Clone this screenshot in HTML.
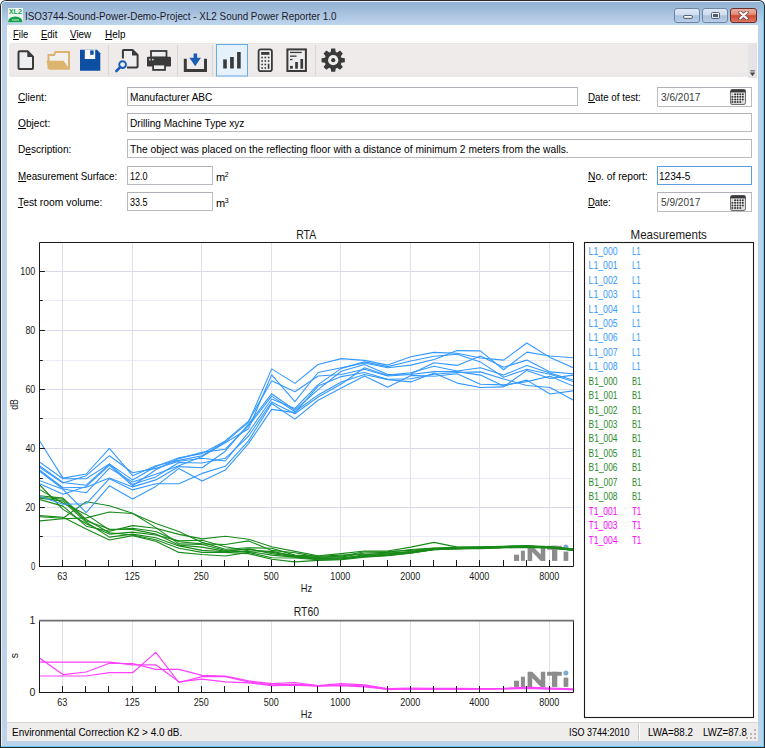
<!DOCTYPE html>
<html><head><meta charset="utf-8">
<style>
*{margin:0;padding:0;box-sizing:border-box}
html,body{width:765px;height:748px;overflow:hidden;background:#fff}
body{position:relative;font-family:"Liberation Sans",sans-serif;font-size:11px;color:#000;letter-spacing:-0.45px}
.a{position:absolute}
.t{position:absolute;white-space:nowrap;line-height:1}
u{text-decoration:underline;text-decoration-thickness:1px;text-underline-offset:1px}
#client{left:7px;top:25px;width:751px;height:716px;background:#fff}
.tbox{position:absolute;border:1px solid #b9bbc0;border-top-color:#b0b2b7;background:#fff;height:20px}
</style></head>
<body>
<div class="a" style="left:0;top:0;width:765px;height:748px;background:#2a2a2a;border-radius:6px 6px 0 0"></div>
<div class="a" style="left:1px;top:1px;width:763px;height:746px;background:#5ccdf0;border-radius:5px 5px 0 0"></div>
<div class="a" style="left:1px;top:1px;width:762px;height:745px;background:#e9f0f8;border-radius:5px 5px 0 0"></div>
<div class="a" style="left:2px;top:2px;width:761px;height:744px;background:#bcd3eb;border-radius:4px 4px 0 0"></div>
<div id="title" class="a" style="left:2px;top:2px;width:761px;height:23px;background:linear-gradient(#93b2d5 0,#9bb8d8 6px,#a9c3df 12px,#b6cee8 19px,#bcd4ec 23px);border-radius:4px 4px 0 0"></div>
<svg class="a" style="left:8px;top:8px;letter-spacing:0" width="15" height="15" viewBox="0 0 15 15">
<rect x="0" y="0" width="15" height="14.5" fill="#eef6f0"/>
<text x="7.3" y="6.3" font-family="Liberation Sans" font-weight="bold" font-size="7.2" fill="#1aa24f" text-anchor="middle">XL2</text>
<path d="M0 14.2 Q0.5 8.6 7.3 8.4 Q14.2 8.6 14.6 14.2 Z" fill="#16a04c"/>
<rect x="4" y="11.4" width="7" height="1.2" fill="#a9dcb9"/>
</svg>
<div class="t" style="left:25px;top:10.8px;font-size:11px;color:#1a1a2a;letter-spacing:0;transform:scaleX(0.8966);transform-origin:0 0">ISO3744-Sound-Power-Demo-Project - XL2 Sound Power Reporter 1.0</div>
<!-- caption buttons -->
<div class="a" style="left:674px;top:8px;width:26px;height:15px;border:1px solid #6f86a3;border-radius:3px;background:linear-gradient(#dfe9f5 0,#cddcee 45%,#a9c1dd 52%,#b9cde6 100%)"></div>
<div class="a" style="left:702px;top:8px;width:26px;height:15px;border:1px solid #6f86a3;border-radius:3px;background:linear-gradient(#dfe9f5 0,#cddcee 45%,#a9c1dd 52%,#b9cde6 100%)"></div>
<div class="a" style="left:730px;top:8px;width:27px;height:15px;border:1px solid #6a2c2c;border-radius:3px;background:linear-gradient(#eab0a2 0,#e2917f 40%,#d0492f 52%,#dc7a66 100%)"></div>
<div class="a" style="left:683px;top:15px;width:9.5px;height:4px;background:linear-gradient(#fff,#d8d8d8);border:1px solid #56647a;border-radius:2px"></div>
<div class="a" style="left:710.5px;top:11.5px;width:9px;height:7px;background:linear-gradient(#fff,#dcdcdc);border:1px solid #56647a;border-radius:1.5px"></div>
<div class="a" style="left:712.5px;top:13.5px;width:5px;height:3px;background:#4d5d73"></div>
<svg class="a" style="left:738px;top:11px" width="11" height="9" viewBox="0 0 11 9"><path d="M2.3 1.4 L8.7 7.4 M8.7 1.4 L2.3 7.4" stroke="#6b3a36" stroke-width="3.8" stroke-linecap="round"/><path d="M2.3 1.4 L8.7 7.4 M8.7 1.4 L2.3 7.4" stroke="#f4f4f4" stroke-width="2.3" stroke-linecap="round"/></svg>
<div id="client" class="a"></div>
<!-- menu -->
<div class="t" style="left:13px;top:28.5px;letter-spacing:0;transform:scaleX(0.8620);transform-origin:0 0"><u>F</u>ile</div>
<div class="t" style="left:41px;top:28.5px;letter-spacing:0;transform:scaleX(0.8602);transform-origin:0 0"><u>E</u>dit</div>
<div class="t" style="left:70px;top:28.5px;letter-spacing:0;transform:scaleX(0.8987);transform-origin:0 0"><u>V</u>iew</div>
<div class="t" style="left:105px;top:28.5px;letter-spacing:0;transform:scaleX(0.9027);transform-origin:0 0"><u>H</u>elp</div>

<!-- toolbar -->
<div class="a" style="left:9px;top:43px;width:747px;height:34px;background:linear-gradient(#e8e5e5 0,#efebeb 1.5px,#efebeb 28px,#ebe8e8 31px,#ebe8e8 34px);border-radius:2px"></div>
<div class="a" style="left:748px;top:43px;width:8.5px;height:34.5px;background:linear-gradient(90deg,#e6e5e6,#e2e2e4)"></div>


<svg class="a" style="left:0;top:0" width="765" height="80" viewBox="0 0 765 80">
<!-- separators -->
<rect x="108" y="45" width="1" height="31" fill="#d9d6d3"/>
<rect x="177" y="45" width="1" height="31" fill="#d9d6d3"/>
<rect x="212" y="45" width="1" height="31" fill="#d9d6d3"/>
<rect x="315" y="45" width="1" height="31" fill="#d9d6d3"/>
<!-- new doc -->
<path d="M18.5 52.5 Q18.5 51.3 19.7 51.3 L27.6 51.3 L33 56.7 L33 68 Q33 69 32 69 L19.5 69 Q18.5 69 18.5 68 Z" fill="#eeeef0" stroke="#3a3a3a" stroke-width="2" stroke-linejoin="round"/>
<path d="M27.3 50.5 L27.3 57 L33.8 57 Z" fill="#3a3a3a"/>
<!-- folder -->
<path d="M48.5 69 L48.5 55 L54 55 L55.5 52 L69 52 L69 69" fill="#f2f1f0" stroke="#dcb46e" stroke-width="2"/>
<path d="M46.5 60.8 L63.5 60.8 L70 69.8 L49 69.8 Z" fill="#dcb46e"/>
<!-- save -->
<path d="M80 49.8 L97 49.8 L100.3 53.3 L100.3 70.7 L80 70.7 Z" fill="#0c4fa3"/>
<rect x="84.8" y="49.8" width="10.4" height="9.2" fill="#fafafa"/>
<rect x="90.2" y="50.4" width="3.4" height="4.4" fill="#0c4fa3"/>
<!-- print preview -->
<path d="M122.9 58.5 L122.9 50.5 Q122.9 49.9 123.5 49.9 L132.5 49.9 L137.6 55 L137.6 66.6 Q137.6 67.6 136.6 67.6 L127 67.6" fill="#eeeef0" stroke="#3a3a3a" stroke-width="2" stroke-linejoin="round"/>
<path d="M132 49.3 L132 55.5 L138.2 55.5 Z" fill="#3a3a3a"/>
<circle cx="122.6" cy="64.6" r="3.4" fill="#f0eeec" stroke="#1a5db5" stroke-width="1.9"/>
<path d="M120.2 67.2 L116.4 71" stroke="#1a5db5" stroke-width="2.6" stroke-linecap="round"/>
<!-- printer -->
<rect x="151" y="51" width="15.5" height="6.5" fill="#eeeef0" stroke="#3a3a3a" stroke-width="1.8"/>
<rect x="147" y="56.8" width="24" height="9.7" rx="0.8" fill="#3a3a3a"/>
<rect x="149" y="58.8" width="1.6" height="1.6" fill="#cfcfcf"/>
<rect x="152" y="58.8" width="1.6" height="1.6" fill="#cfcfcf"/>
<rect x="153.1" y="64.5" width="11.9" height="5.4" fill="#eeeef0" stroke="#3a3a3a" stroke-width="1.8"/>
<!-- download -->
<path d="M185.3 58.7 L185.3 70.4 L205.5 70.4 L205.5 58.7" fill="none" stroke="#3a3a3a" stroke-width="3"/>
<rect x="193.6" y="53.5" width="3.5" height="6" fill="#1a5db5"/>
<path d="M189.4 57.8 L200.9 57.8 L195.2 66.3 Z" fill="#1a5db5"/>
<!-- selected chart button -->
<rect x="216.5" y="44.5" width="31" height="31.5" fill="#e5f1fb" stroke="#68abeb" stroke-width="1"/>
<rect x="223.2" y="59.4" width="3.6" height="9.1" fill="#3a3a3a"/>
<rect x="230.1" y="57" width="3.7" height="11.5" fill="#3a3a3a"/>
<rect x="237.1" y="52" width="3.6" height="16.5" fill="#3a3a3a"/>
<!-- calculator -->
<rect x="258.6" y="49.3" width="13.3" height="21.8" rx="2.2" fill="#eeeef0" stroke="#3a3a3a" stroke-width="1.8"/>
<rect x="261.1" y="52" width="8.3" height="2.8" fill="#3a3a3a"/>
<g fill="#3a3a3a">
<rect x="261.3" y="56.7" width="1.6" height="1.6"/><rect x="264.5" y="56.7" width="1.6" height="1.6"/><rect x="267.8" y="56.7" width="1.6" height="1.6"/>
<rect x="261.3" y="60.2" width="1.6" height="1.6"/><rect x="264.5" y="60.2" width="1.6" height="1.6"/><rect x="267.8" y="60.2" width="1.6" height="1.6"/>
<rect x="261.3" y="63.7" width="1.6" height="1.6"/><rect x="264.5" y="63.7" width="1.6" height="1.6"/><rect x="267.8" y="63.7" width="1.6" height="5.1"/>
<rect x="261.3" y="67.2" width="1.6" height="1.6"/><rect x="264.5" y="67.2" width="1.6" height="1.6"/>
</g>
<!-- report -->
<rect x="287.4" y="49.4" width="18.5" height="21.6" fill="#eeeef0" stroke="#3a3a3a" stroke-width="2"/>
<g fill="#3a3a3a">
<rect x="290" y="51.8" width="11.7" height="1.3"/>
<rect x="290" y="55.5" width="6.5" height="1.3"/>
<rect x="290" y="58.9" width="2.5" height="1.3"/>
<rect x="290" y="65.9" width="2.8" height="2.8"/>
<rect x="295.2" y="62" width="2.7" height="6.7"/>
<rect x="300.4" y="59" width="2.7" height="9.7"/>
</g>
<!-- gear -->
<path d="M329.91 52.25 L330.66 51.98 L331.20 48.57 L335.20 48.57 L335.74 51.98 L336.49 52.25 L337.21 52.59 L340.01 50.56 L342.84 53.39 L340.81 56.19 L341.15 56.91 L341.42 57.66 L344.83 58.20 L344.83 62.20 L341.42 62.74 L341.15 63.49 L340.81 64.21 L342.84 67.01 L340.01 69.84 L337.21 67.81 L336.49 68.15 L335.74 68.42 L335.20 71.83 L331.20 71.83 L330.66 68.42 L329.91 68.15 L329.19 67.81 L326.39 69.84 L323.56 67.01 L325.59 64.21 L325.25 63.49 L324.98 62.74 L321.57 62.20 L321.57 58.20 L324.98 57.66 L325.25 56.91 L325.59 56.19 L323.56 53.39 L326.39 50.56 L329.19 52.59 Z" fill="#3a3a3a"/>
<circle cx="333.2" cy="60.2" r="5.1" fill="#f0eeec"/>
<circle cx="333.2" cy="60.2" r="2.1" fill="#3a3a3a"/>
<!-- overflow grip -->
<rect x="750.3" y="70.1" width="4.5" height="1.4" fill="#7a7a7a"/>
<path d="M749.8 72.6 L755.2 72.6 L752.5 76.2 Z" fill="#454545"/>
</svg>


<!-- form -->
<div class="t" style="left:18px;top:91.8px;letter-spacing:0;transform:scaleX(0.9199);transform-origin:0 0"><u>C</u>lient:</div>
<div class="t" style="left:18px;top:117.8px;letter-spacing:0;transform:scaleX(0.9240);transform-origin:0 0"><u>O</u>bject:</div>
<div class="t" style="left:18px;top:143.8px;letter-spacing:0;transform:scaleX(0.9191);transform-origin:0 0">D<u>e</u>scription:</div>
<div class="t" style="left:18px;top:170.8px;letter-spacing:0;transform:scaleX(0.8913);transform-origin:0 0"><u>M</u>easurement Surface:</div>
<div class="t" style="left:18px;top:196.8px;letter-spacing:0;transform:scaleX(0.9393);transform-origin:0 0"><u>T</u>est room volume:</div>
<div class="tbox" style="left:127px;top:87px;width:451px;height:19px"></div>
<div class="tbox" style="left:127px;top:113px;width:625px;height:19px"></div>
<div class="tbox" style="left:127px;top:139px;width:625px;height:19px"></div>
<div class="tbox" style="left:127px;top:166px;width:86px;height:19px"></div>
<div class="tbox" style="left:127px;top:192px;width:86px;height:19px"></div>
<div class="t" style="left:130px;top:91.8px;letter-spacing:0;transform:scaleX(0.9166);transform-origin:0 0">Manufacturer ABC</div>
<div class="t" style="left:130px;top:117.8px;letter-spacing:0;transform:scaleX(0.9189);transform-origin:0 0">Drilling Machine Type xyz</div>
<div class="t" style="left:130px;top:143.8px;letter-spacing:0;transform:scaleX(0.9318);transform-origin:0 0">The object was placed on the reflecting floor with a distance of minimum 2 meters from the walls.</div>
<div class="t" style="left:130px;top:170.8px;letter-spacing:0;transform:scaleX(0.8178);transform-origin:0 0">12.0</div>
<div class="t" style="left:130px;top:196.8px;letter-spacing:0;transform:scaleX(0.8178);transform-origin:0 0">33.5</div>
<div class="t" style="left:216px;top:170.8px">m<sup style="font-size:7px;vertical-align:4px">2</sup></div>
<div class="t" style="left:216px;top:196.8px">m<sup style="font-size:7px;vertical-align:4px">3</sup></div>
<div class="t" style="left:588px;top:91.8px;letter-spacing:0;transform:scaleX(0.8887);transform-origin:0 0"><u>D</u>ate of test:</div>
<div class="t" style="left:588px;top:170.8px;letter-spacing:0;transform:scaleX(0.9299);transform-origin:0 0"><u>N</u>o. of report:</div>
<div class="t" style="left:588px;top:196.8px;letter-spacing:0;transform:scaleX(0.8593);transform-origin:0 0"><u>D</u>ate:</div>
<div class="tbox" style="left:657px;top:87px;width:95px;height:20px"></div>
<div class="tbox" style="left:657px;top:166px;width:95px;height:19px;border-color:#5a9de0"></div>
<div class="tbox" style="left:657px;top:192px;width:95px;height:20px"></div>
<div class="t" style="left:661px;top:91.8px;color:#3c3c3c;letter-spacing:0;transform:scaleX(0.9172);transform-origin:0 0">3/6/2017</div>
<div class="t" style="left:659px;top:170.8px;letter-spacing:0;transform:scaleX(0.9171);transform-origin:0 0">1234-5</div>
<div class="t" style="left:661px;top:196.8px;color:#3c3c3c;letter-spacing:0;transform:scaleX(0.9172);transform-origin:0 0">5/9/2017</div>
<svg class="a" style="left:730px;top:89px" width="16" height="16" viewBox="0 0 16 16"><rect x="0.6" y="0.6" width="14.8" height="14.8" rx="1.6" fill="#fff" stroke="#6e6e6e" stroke-width="1.1"/><path d="M0.6 3.6 L0.6 2.2 Q0.6 0.6 2.2 0.6 L13.8 0.6 Q15.4 0.6 15.4 2.2 L15.4 3.6 Z" fill="#3a3a3a"/><g stroke="#b0b0b0" stroke-width="0.6"><line x1="1.5" y1="5.3" x2="14.5" y2="5.3"/><line x1="1.5" y1="7.8" x2="14.5" y2="7.8"/><line x1="1.5" y1="10.5" x2="14.5" y2="10.5"/><line x1="1.5" y1="13.0" x2="14.5" y2="13.0"/><line x1="2.4" y1="4" x2="2.4" y2="14.2"/><line x1="5.1" y1="4" x2="5.1" y2="14.2"/><line x1="7.6" y1="4" x2="7.6" y2="14.2"/><line x1="10.3" y1="4" x2="10.3" y2="14.2"/><line x1="12.8" y1="4" x2="12.8" y2="14.2"/></g><g fill="#333"><rect x="4.25" y="4.45" width="1.7" height="1.7"/><rect x="6.75" y="4.45" width="1.7" height="1.7"/><rect x="9.45" y="4.45" width="1.7" height="1.7"/><rect x="11.95" y="4.45" width="1.7" height="1.7"/><rect x="1.55" y="6.95" width="1.7" height="1.7"/><rect x="4.25" y="6.95" width="1.7" height="1.7"/><rect x="6.75" y="6.95" width="1.7" height="1.7"/><rect x="9.45" y="6.95" width="1.7" height="1.7"/><rect x="11.95" y="6.95" width="1.7" height="1.7"/><rect x="1.55" y="9.65" width="1.7" height="1.7"/><rect x="4.25" y="9.65" width="1.7" height="1.7"/><rect x="6.75" y="9.65" width="1.7" height="1.7"/><rect x="9.45" y="9.65" width="1.7" height="1.7"/><rect x="11.95" y="9.65" width="1.7" height="1.7"/><rect x="1.55" y="12.15" width="1.7" height="1.7"/><rect x="4.25" y="12.15" width="1.7" height="1.7"/><rect x="6.75" y="12.15" width="1.7" height="1.7"/><rect x="9.45" y="12.15" width="1.7" height="1.7"/></g></svg>
<svg class="a" style="left:730px;top:194.5px" width="16" height="16" viewBox="0 0 16 16"><rect x="0.6" y="0.6" width="14.8" height="14.8" rx="1.6" fill="#fff" stroke="#6e6e6e" stroke-width="1.1"/><path d="M0.6 3.6 L0.6 2.2 Q0.6 0.6 2.2 0.6 L13.8 0.6 Q15.4 0.6 15.4 2.2 L15.4 3.6 Z" fill="#3a3a3a"/><g stroke="#b0b0b0" stroke-width="0.6"><line x1="1.5" y1="5.3" x2="14.5" y2="5.3"/><line x1="1.5" y1="7.8" x2="14.5" y2="7.8"/><line x1="1.5" y1="10.5" x2="14.5" y2="10.5"/><line x1="1.5" y1="13.0" x2="14.5" y2="13.0"/><line x1="2.4" y1="4" x2="2.4" y2="14.2"/><line x1="5.1" y1="4" x2="5.1" y2="14.2"/><line x1="7.6" y1="4" x2="7.6" y2="14.2"/><line x1="10.3" y1="4" x2="10.3" y2="14.2"/><line x1="12.8" y1="4" x2="12.8" y2="14.2"/></g><g fill="#333"><rect x="4.25" y="4.45" width="1.7" height="1.7"/><rect x="6.75" y="4.45" width="1.7" height="1.7"/><rect x="9.45" y="4.45" width="1.7" height="1.7"/><rect x="11.95" y="4.45" width="1.7" height="1.7"/><rect x="1.55" y="6.95" width="1.7" height="1.7"/><rect x="4.25" y="6.95" width="1.7" height="1.7"/><rect x="6.75" y="6.95" width="1.7" height="1.7"/><rect x="9.45" y="6.95" width="1.7" height="1.7"/><rect x="11.95" y="6.95" width="1.7" height="1.7"/><rect x="1.55" y="9.65" width="1.7" height="1.7"/><rect x="4.25" y="9.65" width="1.7" height="1.7"/><rect x="6.75" y="9.65" width="1.7" height="1.7"/><rect x="9.45" y="9.65" width="1.7" height="1.7"/><rect x="11.95" y="9.65" width="1.7" height="1.7"/><rect x="1.55" y="12.15" width="1.7" height="1.7"/><rect x="4.25" y="12.15" width="1.7" height="1.7"/><rect x="6.75" y="12.15" width="1.7" height="1.7"/><rect x="9.45" y="12.15" width="1.7" height="1.7"/></g></svg>

<!--CHART-->
<svg class="a" style="left:0;top:0;letter-spacing:0" width="765" height="748" viewBox="0 0 765 748" font-family="Liberation Sans, sans-serif">
<line x1="39.6" y1="536.5" x2="573.3" y2="536.5" stroke="#ebebf5" stroke-width="1"/>
<line x1="39.6" y1="507.5" x2="573.3" y2="507.5" stroke="#d9d9ec" stroke-width="1"/>
<line x1="39.6" y1="478.5" x2="573.3" y2="478.5" stroke="#ebebf5" stroke-width="1"/>
<line x1="39.6" y1="448.5" x2="573.3" y2="448.5" stroke="#d9d9ec" stroke-width="1"/>
<line x1="39.6" y1="418.5" x2="573.3" y2="418.5" stroke="#ebebf5" stroke-width="1"/>
<line x1="39.6" y1="389.5" x2="573.3" y2="389.5" stroke="#d9d9ec" stroke-width="1"/>
<line x1="39.6" y1="360.5" x2="573.3" y2="360.5" stroke="#ebebf5" stroke-width="1"/>
<line x1="39.6" y1="330.5" x2="573.3" y2="330.5" stroke="#d9d9ec" stroke-width="1"/>
<line x1="39.6" y1="300.5" x2="573.3" y2="300.5" stroke="#ebebf5" stroke-width="1"/>
<line x1="39.6" y1="271.5" x2="573.3" y2="271.5" stroke="#d9d9ec" stroke-width="1"/>
<line x1="62.5" y1="242" x2="62.5" y2="566" stroke="#dfdff0" stroke-width="1"/>
<line x1="62.5" y1="620" x2="62.5" y2="692" stroke="#dfdff0" stroke-width="1"/>
<line x1="132.5" y1="242" x2="132.5" y2="566" stroke="#dfdff0" stroke-width="1"/>
<line x1="132.5" y1="620" x2="132.5" y2="692" stroke="#dfdff0" stroke-width="1"/>
<line x1="201.5" y1="242" x2="201.5" y2="566" stroke="#dfdff0" stroke-width="1"/>
<line x1="201.5" y1="620" x2="201.5" y2="692" stroke="#dfdff0" stroke-width="1"/>
<line x1="271.5" y1="242" x2="271.5" y2="566" stroke="#dfdff0" stroke-width="1"/>
<line x1="271.5" y1="620" x2="271.5" y2="692" stroke="#dfdff0" stroke-width="1"/>
<line x1="340.5" y1="242" x2="340.5" y2="566" stroke="#dfdff0" stroke-width="1"/>
<line x1="340.5" y1="620" x2="340.5" y2="692" stroke="#dfdff0" stroke-width="1"/>
<line x1="410.5" y1="242" x2="410.5" y2="566" stroke="#dfdff0" stroke-width="1"/>
<line x1="410.5" y1="620" x2="410.5" y2="692" stroke="#dfdff0" stroke-width="1"/>
<line x1="479.5" y1="242" x2="479.5" y2="566" stroke="#dfdff0" stroke-width="1"/>
<line x1="479.5" y1="620" x2="479.5" y2="692" stroke="#dfdff0" stroke-width="1"/>
<line x1="549.5" y1="242" x2="549.5" y2="566" stroke="#dfdff0" stroke-width="1"/>
<line x1="549.5" y1="620" x2="549.5" y2="692" stroke="#dfdff0" stroke-width="1"/>
<g transform="translate(0 0)" fill="#8c8c8c"><rect x="514" y="554.7" width="5.1" height="6.2"/><rect x="520.9" y="550.7" width="4.0" height="10.2"/><path d="M527.6 560.9 L527.6 545.8 L532.2 545.8 L540.8 554.6 L540.8 545.8 L545.3 545.8 L545.3 560.9 L540.8 560.9 L532.2 552.1 L532.2 560.9 Z"/><rect x="547.1" y="545.8" width="14.7" height="3.9"/><rect x="552" y="545.8" width="5.3" height="15.1"/><rect x="563.6" y="551.6" width="4.7" height="9.3"/><circle cx="565.9" cy="546.9" r="2.5" fill="#7ea9cf"/></g>
<g transform="translate(0 126)" fill="#8c8c8c"><rect x="514" y="554.7" width="5.1" height="6.2"/><rect x="520.9" y="550.7" width="4.0" height="10.2"/><path d="M527.6 560.9 L527.6 545.8 L532.2 545.8 L540.8 554.6 L540.8 545.8 L545.3 545.8 L545.3 560.9 L540.8 560.9 L532.2 552.1 L532.2 560.9 Z"/><rect x="547.1" y="545.8" width="14.7" height="3.9"/><rect x="552" y="545.8" width="5.3" height="15.1"/><rect x="563.6" y="551.6" width="4.7" height="9.3"/><circle cx="565.9" cy="546.9" r="2.5" fill="#7ea9cf"/></g>
<g clip-path="url(#cr)">
<polyline points="39.8,484.9 63.0,509.4 86.2,523.8 109.4,534.1 132.6,532.1 155.8,535.0 178.9,540.9 202.1,540.3 225.3,546.8 248.5,550.7 271.7,551.4 294.9,555.7 318.1,557.4 341.3,556.1 364.5,551.8 387.7,551.5 410.8,550.4 434.0,548.3 457.2,547.7 480.4,547.7 503.6,547.1 526.8,546.5 550.0,547.1 573.2,549.2" fill="none" stroke="#188a18" stroke-width="1.1" stroke-linejoin="round" opacity="1.0"/>
<polyline points="39.8,489.6 63.0,503.2 86.2,514.4 109.4,530.0 132.6,528.2 155.8,531.5 178.9,541.8 202.1,543.9 225.3,544.5 248.5,540.9 271.7,550.4 294.9,552.7 318.1,556.9 341.3,557.1 364.5,553.0 387.7,552.4 410.8,549.5 434.0,548.0 457.2,547.4 480.4,547.1 503.6,546.5 526.8,545.9 550.0,547.4 573.2,550.1" fill="none" stroke="#188a18" stroke-width="1.1" stroke-linejoin="round" opacity="1.0"/>
<polyline points="39.8,495.8 63.0,498.1 86.2,519.4 109.4,532.7 132.6,535.0 155.8,539.7 178.9,548.3 202.1,552.4 225.3,552.4 248.5,553.6 271.7,559.2 294.9,561.9 318.1,560.4 341.3,559.8 364.5,557.1 387.7,555.7 410.8,553.3 434.0,549.8 457.2,548.6 480.4,548.6 503.6,547.7 526.8,547.4 550.0,548.0 573.2,550.4" fill="none" stroke="#188a18" stroke-width="1.1" stroke-linejoin="round" opacity="1.0"/>
<polyline points="39.8,497.3 63.0,499.3 86.2,520.9 109.4,529.1 132.6,529.4 155.8,534.1 178.9,545.1 202.1,547.1 225.3,551.4 248.5,548.9 271.7,553.6 294.9,556.6 318.1,558.6 341.3,558.3 364.5,554.8 387.7,553.0 410.8,551.8 434.0,548.9 457.2,548.3 480.4,548.3 503.6,547.4 526.8,547.4 550.0,547.7 573.2,550.1" fill="none" stroke="#188a18" stroke-width="1.1" stroke-linejoin="round" opacity="1.0"/>
<polyline points="39.8,498.1 63.0,501.1 86.2,522.3 109.4,537.1 132.6,534.1 155.8,537.7 178.9,545.9 202.1,550.4 225.3,551.8 248.5,551.4 271.7,555.1 294.9,557.1 318.1,559.2 341.3,558.9 364.5,556.6 387.7,555.4 410.8,553.0 434.0,549.5 457.2,548.0 480.4,547.7 503.6,547.1 526.8,546.8 550.0,547.1 573.2,549.5" fill="none" stroke="#188a18" stroke-width="1.1" stroke-linejoin="round" opacity="1.0"/>
<polyline points="39.8,499.6 63.0,506.1 86.2,526.2 109.4,531.2 132.6,525.6 155.8,528.2 178.9,534.4 202.1,538.9 225.3,536.2 248.5,539.2 271.7,546.8 294.9,551.4 318.1,555.7 341.3,553.6 364.5,551.0 387.7,551.0 410.8,547.1 434.0,542.4 457.2,547.1 480.4,546.8 503.6,546.2 526.8,545.6 550.0,546.8 573.2,548.9" fill="none" stroke="#188a18" stroke-width="1.1" stroke-linejoin="round" opacity="1.0"/>
<polyline points="39.8,515.6 63.0,517.3 86.2,529.1 109.4,540.0 132.6,535.6 155.8,541.2 178.9,552.4 202.1,554.5 225.3,556.0 248.5,552.4 271.7,557.7 294.9,558.0 318.1,559.8 341.3,559.5 364.5,555.4 387.7,554.2 410.8,551.2 434.0,548.6 457.2,548.0 480.4,547.4 503.6,546.8 526.8,546.2 550.0,546.8 573.2,549.2" fill="none" stroke="#188a18" stroke-width="1.1" stroke-linejoin="round" opacity="1.0"/>
<polyline points="39.8,516.7 63.0,518.2 86.2,501.7 109.4,505.8 132.6,513.2 155.8,527.6 178.9,543.9 202.1,544.5 225.3,550.4 248.5,549.2 271.7,552.4 294.9,556.1 318.1,558.0 341.3,557.7 364.5,556.0 387.7,554.8 410.8,552.7 434.0,549.8 457.2,548.9 480.4,548.3 503.6,547.7 526.8,547.1 550.0,547.7 573.2,549.8" fill="none" stroke="#188a18" stroke-width="1.1" stroke-linejoin="round" opacity="1.0"/>
<polyline points="39.8,520.9 63.0,518.8 86.2,517.9 109.4,512.0 132.6,513.5 155.8,523.5 178.9,531.5 202.1,542.4 225.3,549.2 248.5,547.7 271.7,548.3 294.9,555.1 318.1,556.3 341.3,555.1 364.5,554.2 387.7,553.6 410.8,552.4 434.0,549.2 457.2,548.6 480.4,548.0 503.6,547.4 526.8,546.8 550.0,547.4 573.2,549.8" fill="none" stroke="#188a18" stroke-width="1.1" stroke-linejoin="round" opacity="1.0"/>
<polyline points="39.8,441.2 63.0,478.1 86.2,474.0 109.4,448.3 132.6,475.7 155.8,465.7 178.9,460.4 202.1,455.7 225.3,441.8 248.5,422.3 271.7,368.9 294.9,383.4 318.1,364.5 341.3,358.6 364.5,360.4 387.7,365.1 410.8,356.8 434.0,352.4 457.2,353.3 480.4,358.0 503.6,360.1 526.8,343.0 550.0,357.4 573.2,367.8" fill="none" stroke="#3399ff" stroke-width="1.1" stroke-linejoin="round" opacity="1.0"/>
<polyline points="39.8,462.2 63.0,478.7 86.2,478.7 109.4,463.9 132.6,479.9 155.8,466.6 178.9,457.7 202.1,453.6 225.3,440.9 248.5,421.2 271.7,380.7 294.9,391.7 318.1,376.0 341.3,374.5 364.5,369.2 387.7,376.0 410.8,374.5 434.0,371.6 457.2,371.6 480.4,375.1 503.6,386.1 526.8,380.1 550.0,394.0 573.2,390.8" fill="none" stroke="#3399ff" stroke-width="1.1" stroke-linejoin="round" opacity="1.0"/>
<polyline points="39.8,466.0 63.0,482.5 86.2,485.2 109.4,464.2 132.6,484.3 155.8,476.9 178.9,462.5 202.1,463.0 225.3,458.3 248.5,436.2 271.7,402.0 294.9,413.8 318.1,397.0 341.3,384.0 364.5,367.8 387.7,375.4 410.8,372.8 434.0,366.3 457.2,371.0 480.4,367.8 503.6,375.1 526.8,365.4 550.0,373.1 573.2,380.1" fill="none" stroke="#3399ff" stroke-width="1.1" stroke-linejoin="round" opacity="1.0"/>
<polyline points="39.8,467.5 63.0,483.1 86.2,475.7 109.4,455.7 132.6,472.8 155.8,468.4 178.9,461.3 202.1,458.3 225.3,461.0 248.5,432.4 271.7,399.0 294.9,408.5 318.1,384.6 341.3,368.4 364.5,361.9 387.7,366.6 410.8,361.0 434.0,356.3 457.2,354.2 480.4,361.9 503.6,377.2 526.8,369.2 550.0,374.2 573.2,381.6" fill="none" stroke="#3399ff" stroke-width="1.1" stroke-linejoin="round" opacity="1.0"/>
<polyline points="39.8,470.1 63.0,487.8 86.2,487.2 109.4,478.1 132.6,486.9 155.8,479.9 178.9,466.6 202.1,467.8 225.3,451.2 248.5,424.1 271.7,393.7 294.9,410.2 318.1,389.6 341.3,371.3 364.5,364.5 387.7,374.5 410.8,374.0 434.0,362.7 457.2,365.4 480.4,356.0 503.6,367.2 526.8,360.1 550.0,371.9 573.2,373.7" fill="none" stroke="#3399ff" stroke-width="1.1" stroke-linejoin="round" opacity="1.0"/>
<polyline points="39.8,471.3 63.0,489.0 86.2,492.8 109.4,468.1 132.6,481.9 155.8,474.3 178.9,465.7 202.1,456.6 225.3,442.7 248.5,428.8 271.7,374.8 294.9,401.7 318.1,372.5 341.3,367.8 364.5,363.0 387.7,367.8 410.8,365.1 434.0,359.5 457.2,350.6 480.4,350.9 503.6,369.8 526.8,352.1 550.0,356.0 573.2,357.7" fill="none" stroke="#3399ff" stroke-width="1.1" stroke-linejoin="round" opacity="1.0"/>
<polyline points="39.8,480.7 63.0,489.3 86.2,512.6 109.4,485.8 132.6,499.0 155.8,486.4 178.9,468.4 202.1,481.0 225.3,470.1 248.5,443.6 271.7,409.4 294.9,412.6 318.1,386.1 341.3,376.6 364.5,372.5 387.7,379.3 410.8,378.7 434.0,374.2 457.2,372.5 480.4,371.9 503.6,379.0 526.8,385.5 550.0,387.5 573.2,399.9" fill="none" stroke="#3399ff" stroke-width="1.1" stroke-linejoin="round" opacity="1.0"/>
<polyline points="39.8,483.7 63.0,494.3 86.2,486.4 109.4,465.4 132.6,485.8 155.8,469.8 178.9,458.6 202.1,452.4 225.3,449.2 248.5,425.9 271.7,396.1 294.9,411.7 318.1,394.9 341.3,381.9 364.5,374.5 387.7,379.6 410.8,381.9 434.0,373.1 457.2,383.1 480.4,387.5 503.6,386.9 526.8,370.4 550.0,378.4 573.2,375.1" fill="none" stroke="#3399ff" stroke-width="1.1" stroke-linejoin="round" opacity="1.0"/>
<polyline points="39.8,496.4 63.0,504.3 86.2,503.8 109.4,478.7 132.6,489.9 155.8,483.7 178.9,483.7 202.1,473.4 225.3,466.3 248.5,440.9 271.7,403.5 294.9,419.1 318.1,400.2 341.3,388.1 364.5,376.0 387.7,387.2 410.8,375.4 434.0,376.3 457.2,373.7 480.4,384.3 503.6,384.9 526.8,381.6 550.0,376.3 573.2,386.1" fill="none" stroke="#3399ff" stroke-width="1.1" stroke-linejoin="round" opacity="1.0"/>
</g>
<g clip-path="url(#ct)">
<polyline points="39.8,662.2 63.0,662.2 86.2,662.2 109.4,662.2 132.6,664.8 155.8,664.8 178.9,681.8 202.1,679.2 225.3,681.9 248.5,682.8 271.7,685.6 294.9,685.1 318.1,686.2 341.3,685.6 364.5,686.8 387.7,689.1 410.8,689.1 434.0,688.8 457.2,689.3 480.4,689.1 503.6,689.0 526.8,688.4 550.0,689.1 573.2,689.5" fill="none" stroke="#ff40ff" stroke-width="1.2" stroke-linejoin="round" opacity="1.0"/>
<polyline points="39.8,658.3 63.0,674.6 86.2,672.0 109.4,663.3 132.6,663.5 155.8,669.4 178.9,669.4 202.1,675.3 225.3,676.2 248.5,680.9 271.7,683.7 294.9,682.5 318.1,685.6 341.3,683.7 364.5,684.8 387.7,688.6 410.8,688.0 434.0,688.4 457.2,688.3 480.4,688.5 503.6,688.4 526.8,687.2 550.0,688.0 573.2,688.8" fill="none" stroke="#ff40ff" stroke-width="1.2" stroke-linejoin="round" opacity="1.0"/>
<polyline points="39.8,676.0 63.0,676.0 86.2,676.0 109.4,672.7 132.6,672.7 155.8,652.4 178.9,682.5 202.1,676.6 225.3,676.6 248.5,681.9 271.7,684.8 294.9,684.1 318.1,685.9 341.3,684.8 364.5,685.9 387.7,689.6 410.8,688.8 434.0,689.1 457.2,688.8 480.4,689.0 503.6,688.8 526.8,687.8 550.0,688.5 573.2,689.8" fill="none" stroke="#ff40ff" stroke-width="1.2" stroke-linejoin="round" opacity="1.0"/>
</g>
<defs><clipPath id="cr"><rect x="40" y="243" width="533" height="323"/></clipPath><clipPath id="ct"><rect x="40" y="621" width="533" height="71"/></clipPath></defs>
<path d="M39.5 242.5 L573.5 242.5 L573.5 566.5 L39.5 566.5 Z" fill="none" stroke="#1a1a1a" stroke-width="1"/>
<path d="M39.5 692.5 L573.5 692.5 L573.5 620.5" fill="none" stroke="#1a1a1a" stroke-width="1"/>
<line x1="39.5" y1="620" x2="39.5" y2="693" stroke="#1a1a1a" stroke-width="1"/>
<line x1="39" y1="620.6" x2="574" y2="620.6" stroke="#6e6e6e" stroke-width="1.6"/>
<line x1="39" y1="566.5" x2="44.9" y2="566.5" stroke="#1a1a1a" stroke-width="1"/>
<line x1="39" y1="536.5" x2="42.800000000000004" y2="536.5" stroke="#1a1a1a" stroke-width="1"/>
<line x1="39" y1="507.5" x2="44.9" y2="507.5" stroke="#1a1a1a" stroke-width="1"/>
<line x1="39" y1="478.5" x2="42.800000000000004" y2="478.5" stroke="#1a1a1a" stroke-width="1"/>
<line x1="39" y1="448.5" x2="44.9" y2="448.5" stroke="#1a1a1a" stroke-width="1"/>
<line x1="39" y1="418.5" x2="42.800000000000004" y2="418.5" stroke="#1a1a1a" stroke-width="1"/>
<line x1="39" y1="389.5" x2="44.9" y2="389.5" stroke="#1a1a1a" stroke-width="1"/>
<line x1="39" y1="360.5" x2="42.800000000000004" y2="360.5" stroke="#1a1a1a" stroke-width="1"/>
<line x1="39" y1="330.5" x2="44.9" y2="330.5" stroke="#1a1a1a" stroke-width="1"/>
<line x1="39" y1="300.5" x2="42.800000000000004" y2="300.5" stroke="#1a1a1a" stroke-width="1"/>
<line x1="39" y1="271.5" x2="44.9" y2="271.5" stroke="#1a1a1a" stroke-width="1"/>
<line x1="62.5" y1="560" x2="62.5" y2="566" stroke="#1a1a1a" stroke-width="1"/>
<line x1="62.5" y1="686" x2="62.5" y2="692" stroke="#1a1a1a" stroke-width="1"/>
<line x1="85.5" y1="560" x2="85.5" y2="566" stroke="#1a1a1a" stroke-width="1"/>
<line x1="85.5" y1="686" x2="85.5" y2="692" stroke="#1a1a1a" stroke-width="1"/>
<line x1="108.5" y1="560" x2="108.5" y2="566" stroke="#1a1a1a" stroke-width="1"/>
<line x1="108.5" y1="686" x2="108.5" y2="692" stroke="#1a1a1a" stroke-width="1"/>
<line x1="132.5" y1="560" x2="132.5" y2="566" stroke="#1a1a1a" stroke-width="1"/>
<line x1="132.5" y1="686" x2="132.5" y2="692" stroke="#1a1a1a" stroke-width="1"/>
<line x1="155.5" y1="560" x2="155.5" y2="566" stroke="#1a1a1a" stroke-width="1"/>
<line x1="155.5" y1="686" x2="155.5" y2="692" stroke="#1a1a1a" stroke-width="1"/>
<line x1="178.5" y1="560" x2="178.5" y2="566" stroke="#1a1a1a" stroke-width="1"/>
<line x1="178.5" y1="686" x2="178.5" y2="692" stroke="#1a1a1a" stroke-width="1"/>
<line x1="201.5" y1="560" x2="201.5" y2="566" stroke="#1a1a1a" stroke-width="1"/>
<line x1="201.5" y1="686" x2="201.5" y2="692" stroke="#1a1a1a" stroke-width="1"/>
<line x1="224.5" y1="560" x2="224.5" y2="566" stroke="#1a1a1a" stroke-width="1"/>
<line x1="224.5" y1="686" x2="224.5" y2="692" stroke="#1a1a1a" stroke-width="1"/>
<line x1="248.5" y1="560" x2="248.5" y2="566" stroke="#1a1a1a" stroke-width="1"/>
<line x1="248.5" y1="686" x2="248.5" y2="692" stroke="#1a1a1a" stroke-width="1"/>
<line x1="271.5" y1="560" x2="271.5" y2="566" stroke="#1a1a1a" stroke-width="1"/>
<line x1="271.5" y1="686" x2="271.5" y2="692" stroke="#1a1a1a" stroke-width="1"/>
<line x1="294.5" y1="560" x2="294.5" y2="566" stroke="#1a1a1a" stroke-width="1"/>
<line x1="294.5" y1="686" x2="294.5" y2="692" stroke="#1a1a1a" stroke-width="1"/>
<line x1="317.5" y1="560" x2="317.5" y2="566" stroke="#1a1a1a" stroke-width="1"/>
<line x1="317.5" y1="686" x2="317.5" y2="692" stroke="#1a1a1a" stroke-width="1"/>
<line x1="340.5" y1="560" x2="340.5" y2="566" stroke="#1a1a1a" stroke-width="1"/>
<line x1="340.5" y1="686" x2="340.5" y2="692" stroke="#1a1a1a" stroke-width="1"/>
<line x1="363.5" y1="560" x2="363.5" y2="566" stroke="#1a1a1a" stroke-width="1"/>
<line x1="363.5" y1="686" x2="363.5" y2="692" stroke="#1a1a1a" stroke-width="1"/>
<line x1="387.5" y1="560" x2="387.5" y2="566" stroke="#1a1a1a" stroke-width="1"/>
<line x1="387.5" y1="686" x2="387.5" y2="692" stroke="#1a1a1a" stroke-width="1"/>
<line x1="410.5" y1="560" x2="410.5" y2="566" stroke="#1a1a1a" stroke-width="1"/>
<line x1="410.5" y1="686" x2="410.5" y2="692" stroke="#1a1a1a" stroke-width="1"/>
<line x1="433.5" y1="560" x2="433.5" y2="566" stroke="#1a1a1a" stroke-width="1"/>
<line x1="433.5" y1="686" x2="433.5" y2="692" stroke="#1a1a1a" stroke-width="1"/>
<line x1="456.5" y1="560" x2="456.5" y2="566" stroke="#1a1a1a" stroke-width="1"/>
<line x1="456.5" y1="686" x2="456.5" y2="692" stroke="#1a1a1a" stroke-width="1"/>
<line x1="479.5" y1="560" x2="479.5" y2="566" stroke="#1a1a1a" stroke-width="1"/>
<line x1="479.5" y1="686" x2="479.5" y2="692" stroke="#1a1a1a" stroke-width="1"/>
<line x1="503.5" y1="560" x2="503.5" y2="566" stroke="#1a1a1a" stroke-width="1"/>
<line x1="503.5" y1="686" x2="503.5" y2="692" stroke="#1a1a1a" stroke-width="1"/>
<line x1="526.5" y1="560" x2="526.5" y2="566" stroke="#1a1a1a" stroke-width="1"/>
<line x1="526.5" y1="686" x2="526.5" y2="692" stroke="#1a1a1a" stroke-width="1"/>
<line x1="549.5" y1="560" x2="549.5" y2="566" stroke="#1a1a1a" stroke-width="1"/>
<line x1="549.5" y1="686" x2="549.5" y2="692" stroke="#1a1a1a" stroke-width="1"/>
<text transform="translate(62.20 579.60) scale(0.8632 1)" font-size="10.5" text-anchor="middle" fill="#1a1a1a">63</text>
<text transform="translate(62.20 705.60) scale(0.8632 1)" font-size="10.5" text-anchor="middle" fill="#1a1a1a">63</text>
<text transform="translate(132.20 579.60) scale(0.8571 1)" font-size="10.5" text-anchor="middle" fill="#1a1a1a">125</text>
<text transform="translate(132.20 705.60) scale(0.8571 1)" font-size="10.5" text-anchor="middle" fill="#1a1a1a">125</text>
<text transform="translate(201.20 579.60) scale(0.8571 1)" font-size="10.5" text-anchor="middle" fill="#1a1a1a">250</text>
<text transform="translate(201.20 705.60) scale(0.8571 1)" font-size="10.5" text-anchor="middle" fill="#1a1a1a">250</text>
<text transform="translate(271.20 579.60) scale(0.8571 1)" font-size="10.5" text-anchor="middle" fill="#1a1a1a">500</text>
<text transform="translate(271.20 705.60) scale(0.8571 1)" font-size="10.5" text-anchor="middle" fill="#1a1a1a">500</text>
<text transform="translate(340.20 579.60) scale(0.8608 1)" font-size="10.5" text-anchor="middle" fill="#1a1a1a">1000</text>
<text transform="translate(340.20 705.60) scale(0.8608 1)" font-size="10.5" text-anchor="middle" fill="#1a1a1a">1000</text>
<text transform="translate(410.20 579.60) scale(0.8608 1)" font-size="10.5" text-anchor="middle" fill="#1a1a1a">2000</text>
<text transform="translate(410.20 705.60) scale(0.8608 1)" font-size="10.5" text-anchor="middle" fill="#1a1a1a">2000</text>
<text transform="translate(479.20 579.60) scale(0.8608 1)" font-size="10.5" text-anchor="middle" fill="#1a1a1a">4000</text>
<text transform="translate(479.20 705.60) scale(0.8608 1)" font-size="10.5" text-anchor="middle" fill="#1a1a1a">4000</text>
<text transform="translate(549.20 579.60) scale(0.8608 1)" font-size="10.5" text-anchor="middle" fill="#1a1a1a">8000</text>
<text transform="translate(549.20 705.60) scale(0.8608 1)" font-size="10.5" text-anchor="middle" fill="#1a1a1a">8000</text>
<text transform="translate(35.30 569.80) scale(0.7350 1)" font-size="10.5" text-anchor="end" fill="#1a1a1a">0</text>
<text transform="translate(35.30 510.80) scale(0.8462 1)" font-size="10.5" text-anchor="end" fill="#1a1a1a">20</text>
<text transform="translate(35.30 451.80) scale(0.8462 1)" font-size="10.5" text-anchor="end" fill="#1a1a1a">40</text>
<text transform="translate(35.30 392.80) scale(0.8462 1)" font-size="10.5" text-anchor="end" fill="#1a1a1a">60</text>
<text transform="translate(35.30 333.80) scale(0.8462 1)" font-size="10.5" text-anchor="end" fill="#1a1a1a">80</text>
<text transform="translate(35.30 274.80) scale(0.8571 1)" font-size="10.5" text-anchor="end" fill="#1a1a1a">100</text>
<text transform="translate(35.30 623.80)" font-size="10.5" text-anchor="end" fill="#1a1a1a">1</text>
<text transform="translate(35.30 695.80)" font-size="10.5" text-anchor="end" fill="#1a1a1a">0</text>
<text transform="translate(306.40 592.10) scale(0.8872 1)" font-size="10.5" text-anchor="middle" fill="#1a1a1a">Hz</text>
<text transform="translate(306.40 718.20) scale(0.8872 1)" font-size="10.5" text-anchor="middle" fill="#1a1a1a">Hz</text>
<text transform="translate(306.20 239.00) scale(0.8777 1)" font-size="12" text-anchor="middle" fill="#1a1a1a">RTA</text>
<text transform="translate(306.40 616.20) scale(0.8679 1)" font-size="12" text-anchor="middle" fill="#1a1a1a">RT60</text>
<text transform="translate(17.90 404.40) rotate(-90) scale(0.8327 1)" font-size="10.5" text-anchor="middle" fill="#1a1a1a">dB</text>
<text transform="translate(18.20 655.50) rotate(-90)" font-size="10.5" text-anchor="middle" fill="#1a1a1a">s</text>
<rect x="584.5" y="242.5" width="169" height="475" fill="none" stroke="#1a1a1a" stroke-width="1.1"/>
<text transform="translate(668.70 239.00) scale(0.9628 1)" font-size="12" text-anchor="middle" fill="#1a1a1a">Measurements</text>
<text transform="translate(588.60 254.80) scale(0.8696 1)" font-size="10" text-anchor="start" fill="#3399ff">L1_000</text>
<text transform="translate(631.90 254.80) scale(0.7838 1)" font-size="10" text-anchor="start" fill="#3399ff">L1</text>
<text transform="translate(588.60 269.24) scale(0.8696 1)" font-size="10" text-anchor="start" fill="#3399ff">L1_001</text>
<text transform="translate(631.90 269.24) scale(0.7838 1)" font-size="10" text-anchor="start" fill="#3399ff">L1</text>
<text transform="translate(588.60 283.67) scale(0.8696 1)" font-size="10" text-anchor="start" fill="#3399ff">L1_002</text>
<text transform="translate(631.90 283.67) scale(0.7838 1)" font-size="10" text-anchor="start" fill="#3399ff">L1</text>
<text transform="translate(588.60 298.11) scale(0.8696 1)" font-size="10" text-anchor="start" fill="#3399ff">L1_003</text>
<text transform="translate(631.90 298.11) scale(0.7838 1)" font-size="10" text-anchor="start" fill="#3399ff">L1</text>
<text transform="translate(588.60 312.54) scale(0.8696 1)" font-size="10" text-anchor="start" fill="#3399ff">L1_004</text>
<text transform="translate(631.90 312.54) scale(0.7838 1)" font-size="10" text-anchor="start" fill="#3399ff">L1</text>
<text transform="translate(588.60 326.98) scale(0.8696 1)" font-size="10" text-anchor="start" fill="#3399ff">L1_005</text>
<text transform="translate(631.90 326.98) scale(0.7838 1)" font-size="10" text-anchor="start" fill="#3399ff">L1</text>
<text transform="translate(588.60 341.41) scale(0.8696 1)" font-size="10" text-anchor="start" fill="#3399ff">L1_006</text>
<text transform="translate(631.90 341.41) scale(0.7838 1)" font-size="10" text-anchor="start" fill="#3399ff">L1</text>
<text transform="translate(588.60 355.85) scale(0.8696 1)" font-size="10" text-anchor="start" fill="#3399ff">L1_007</text>
<text transform="translate(631.90 355.85) scale(0.7838 1)" font-size="10" text-anchor="start" fill="#3399ff">L1</text>
<text transform="translate(588.60 370.28) scale(0.8696 1)" font-size="10" text-anchor="start" fill="#3399ff">L1_008</text>
<text transform="translate(631.90 370.28) scale(0.7838 1)" font-size="10" text-anchor="start" fill="#3399ff">L1</text>
<text transform="translate(588.60 384.72) scale(0.8406 1)" font-size="10" text-anchor="start" fill="#2a8c2a">B1_000</text>
<text transform="translate(631.90 384.72) scale(0.7673 1)" font-size="10" text-anchor="start" fill="#2a8c2a">B1</text>
<text transform="translate(588.60 399.15) scale(0.8406 1)" font-size="10" text-anchor="start" fill="#2a8c2a">B1_001</text>
<text transform="translate(631.90 399.15) scale(0.7673 1)" font-size="10" text-anchor="start" fill="#2a8c2a">B1</text>
<text transform="translate(588.60 413.59) scale(0.8406 1)" font-size="10" text-anchor="start" fill="#2a8c2a">B1_002</text>
<text transform="translate(631.90 413.59) scale(0.7673 1)" font-size="10" text-anchor="start" fill="#2a8c2a">B1</text>
<text transform="translate(588.60 428.02) scale(0.8406 1)" font-size="10" text-anchor="start" fill="#2a8c2a">B1_003</text>
<text transform="translate(631.90 428.02) scale(0.7673 1)" font-size="10" text-anchor="start" fill="#2a8c2a">B1</text>
<text transform="translate(588.60 442.46) scale(0.8406 1)" font-size="10" text-anchor="start" fill="#2a8c2a">B1_004</text>
<text transform="translate(631.90 442.46) scale(0.7673 1)" font-size="10" text-anchor="start" fill="#2a8c2a">B1</text>
<text transform="translate(588.60 456.89) scale(0.8406 1)" font-size="10" text-anchor="start" fill="#2a8c2a">B1_005</text>
<text transform="translate(631.90 456.89) scale(0.7673 1)" font-size="10" text-anchor="start" fill="#2a8c2a">B1</text>
<text transform="translate(588.60 471.33) scale(0.8406 1)" font-size="10" text-anchor="start" fill="#2a8c2a">B1_006</text>
<text transform="translate(631.90 471.33) scale(0.7673 1)" font-size="10" text-anchor="start" fill="#2a8c2a">B1</text>
<text transform="translate(588.60 485.76) scale(0.8406 1)" font-size="10" text-anchor="start" fill="#2a8c2a">B1_007</text>
<text transform="translate(631.90 485.76) scale(0.7673 1)" font-size="10" text-anchor="start" fill="#2a8c2a">B1</text>
<text transform="translate(588.60 500.20) scale(0.8406 1)" font-size="10" text-anchor="start" fill="#2a8c2a">B1_008</text>
<text transform="translate(631.90 500.20) scale(0.7673 1)" font-size="10" text-anchor="start" fill="#2a8c2a">B1</text>
<text transform="translate(588.60 514.63) scale(0.8555 1)" font-size="10" text-anchor="start" fill="#ff00ff">T1_001</text>
<text transform="translate(631.90 514.63) scale(0.8069 1)" font-size="10" text-anchor="start" fill="#ff00ff">T1</text>
<text transform="translate(588.60 529.07) scale(0.8555 1)" font-size="10" text-anchor="start" fill="#ff00ff">T1_003</text>
<text transform="translate(631.90 529.07) scale(0.8069 1)" font-size="10" text-anchor="start" fill="#ff00ff">T1</text>
<text transform="translate(588.60 543.50) scale(0.8555 1)" font-size="10" text-anchor="start" fill="#ff00ff">T1_004</text>
<text transform="translate(631.90 543.50) scale(0.8069 1)" font-size="10" text-anchor="start" fill="#ff00ff">T1</text>
</svg>
<div class="a" style="left:7px;top:722px;width:751px;height:1px;background:#d7d7d7"></div>
<div class="a" style="left:7px;top:723px;width:751px;height:18px;background:#efecec"></div>
<div class="a" style="left:638px;top:724px;width:1px;height:16px;background:#c8c8c8"></div>
<div class="a" style="left:639px;top:724px;width:1px;height:16px;background:#fff"></div>
<div class="t" style="left:12px;top:727.3px;letter-spacing:0;transform:scaleX(0.9053);transform-origin:0 0">Environmental Correction K2 &gt; 4.0 dB.</div>
<div class="t" style="left:568.5px;top:727.3px;letter-spacing:0;transform:scaleX(0.8176);transform-origin:0 0">ISO 3744:2010</div>
<div class="t" style="left:648px;top:727.3px;letter-spacing:0;transform:scaleX(0.8900);transform-origin:0 0">LWA=88.2</div>
<div class="t" style="left:702.5px;top:727.3px;letter-spacing:0;transform:scaleX(0.8736);transform-origin:0 0">LWZ=87.8</div>
<svg class="a" style="left:746px;top:729px" width="11" height="11" viewBox="0 0 11 11"><g fill="#b8b8b8"><rect x="8" y="0" width="2" height="2"/><rect x="8" y="4" width="2" height="2"/><rect x="4" y="4" width="2" height="2"/><rect x="8" y="8" width="2" height="2"/><rect x="4" y="8" width="2" height="2"/><rect x="0" y="8" width="2" height="2"/></g></svg>
<!--/CHART-->
</body></html>
